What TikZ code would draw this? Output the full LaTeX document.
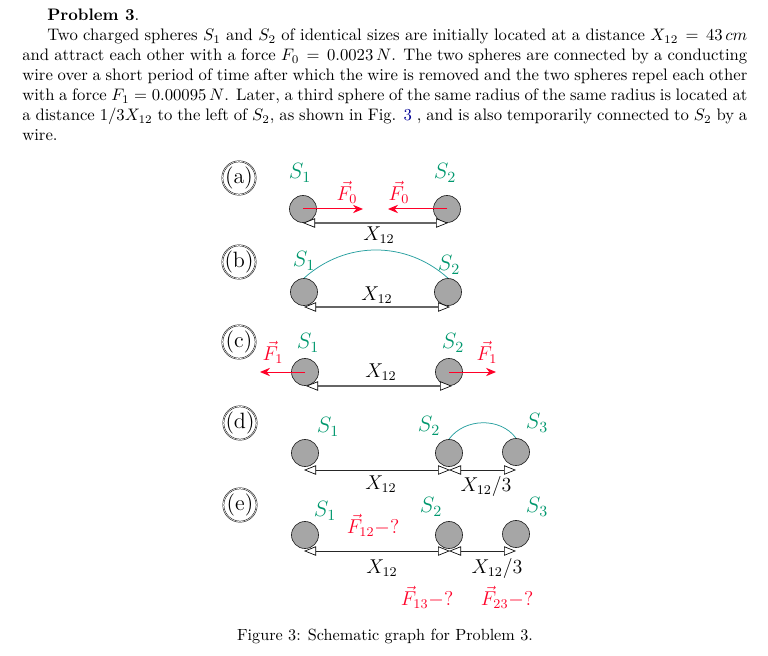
\RequirePackage{fix-cm}
\documentclass[tikz,border=0pt]{standalone}
\usepackage{xcolor}
\usetikzlibrary{arrows.meta}
\definecolor{sgreen}{RGB}{0,152,110}
\definecolor{wire}{RGB}{40,160,160}
\definecolor{fred}{RGB}{255,0,40}
\definecolor{linkblue}{RGB}{0,0,150}
\newcommand{\tagsize}{\fontsize{13.3}{16}\selectfont}
\tikzset{
  ball/.style={circle,draw=black!85,line width=.4pt,fill=black!35,minimum size=16.2pt,inner sep=0pt},
  tag/.style={circle,double,draw,line width=.3pt,double distance=.35pt,minimum size=20pt,inner sep=-2.5pt,font=\tagsize},
  sname/.style={text=sgreen,font=\tagsize,inner sep=0pt},
  dist/.style={font=\large,inner sep=0pt},
  flabel/.style={text=fred,font=\large,inner sep=0pt},
  force/.style={draw=fred,fill=fred,line width=.6pt,-{Stealth[length=6pt,width=5pt]}},
  span/.style={draw=black!60,line width=.7pt,{Triangle[length=7.2pt,width=5.6pt,fill=white,line width=.4pt,color=black]}-{Triangle[length=7.2pt,width=5.6pt,fill=white,line width=.4pt,color=black]}},
  thinspan/.style={span,draw=black!85,line width=.45pt},
  wireline/.style={draw=wire,line width=.45pt}
}
\begin{document}
\begin{tikzpicture}[x=.6pt,y=-.6pt]
\path[use as bounding box,fill=white] (0,0) rectangle (768,656);
\node[anchor=north west,text width=435pt,align=justify,inner sep=0pt] (body) at (22,9) {%
\hspace*{15pt}\textbf{Problem 3}.\hfill\null\linebreak
\hspace*{15pt}Two charged spheres $S_1$ and $S_2$ of identical sizes are initially located at a distance $X_{12}\,=\,43\,cm$\linebreak
and attract each other with a force $F_0\,=\,0.0023\,N$. The two spheres are connected by a conducting\linebreak
wire over a short period of time after which the wire is removed and the two spheres repel each other\linebreak
with a force $F_1=0.00095\,N$. Later, a third sphere of the same radius of the same radius is located at\linebreak
a distance $1/3X_{12}$ to the left of $S_2$, as shown in Fig. \textcolor{linkblue}{3} , and is also temporarily connected to $S_2$ by a\linebreak
wire.};
% (a)
\node[tag] (ta) at (239,178) {(a)};
\node[ball] (a1) at (303,209) {};
\node[ball] (a2) at (447,209) {};
\node[sname] (as1) at (300,173) {$S_1$};
\node[sname] (as2) at (445,173) {$S_2$};
\node[flabel] (af1) at (347,192) {$\vec F_0$};
\node[flabel] (af2) at (399,192) {$\vec F_0$};
\coordinate (ae1) at (363,209);
\coordinate (ae2) at (388,209);
\draw[force] (a1.center) -- (ae1);
\draw[force] (a2.center) -- (ae2);
\coordinate (al) at (303,223);
\coordinate (ar) at (448,223);
\draw[span] (al) -- (ar);
\node[dist] (ax) at (379,235) {$X_{12}$};
% (b)
\node[tag] (tb) at (239,262) {(b)};
\node[ball] (b1) at (304,292) {};
\node[ball] (b2) at (448,292) {};
\node[sname] (bs1) at (304,261) {$S_1$};
\node[sname] (bs2) at (449,265) {$S_2$};
\draw[wireline] (b1.north) to[out=42,in=138] (b2.north);
\coordinate (bl) at (304,307);
\coordinate (br) at (450,307);
\draw[span] (bl) -- (br);
\node[dist] (bx) at (377,295) {$X_{12}$};
% (c)
\node[tag] (tc) at (239,342) {(c)};
\node[ball] (c1) at (305,372) {};
\node[ball] (c2) at (449,372) {};
\node[sname] (cs1) at (308,343) {$S_1$};
\node[sname] (cs2) at (453,343) {$S_2$};
\node[flabel] (cf1) at (273,352) {$\vec F_1$};
\node[flabel] (cf2) at (487,352) {$\vec F_1$};
\coordinate (ce1) at (260,372);
\coordinate (ce2) at (496,372);
\draw[force] (c1.center) -- (ce1);
\draw[force] (c2.center) -- (ce2);
\coordinate (cl) at (306,386);
\coordinate (cr) at (452,386);
\draw[span] (cl) -- (cr);
\node[dist] (cx) at (381,372) {$X_{12}$};
% (d)
\node[tag] (td) at (240,423) {(d)};
\node[ball] (d1) at (305,453) {};
\node[ball] (d2) at (449,453) {};
\node[ball] (d3) at (516,452) {};
\node[sname] (ds1) at (328,427) {$S_1$};
\node[sname] (ds2) at (429,426) {$S_2$};
\node[sname] (ds3) at (537,423) {$S_3$};
\draw[wireline] (d2.north) to[out=54,in=126] (d3.north);
\coordinate (dl) at (304,470);
\coordinate (dr) at (450,470);
\coordinate (dm) at (449,470);
\coordinate (de) at (516,470);
\draw[thinspan] (dl) -- (dr);
\draw[thinspan] (dm) -- (de);
\node[dist] (dx) at (381,484) {$X_{12}$};
\node[dist] (dy) at (486,486) {$X_{12}/3$};
% (e)
\node[tag] (te) at (240,505) {(e)};
\node[ball] (e1) at (305,535) {};
\node[ball] (e2) at (449,535) {};
\node[ball] (e3) at (516,534) {};
\node[sname] (es1) at (325,511) {$S_1$};
\node[sname] (es2) at (431,507) {$S_2$};
\node[sname] (es3) at (537,507) {$S_3$};
\coordinate (el) at (304,551);
\coordinate (er) at (450,551);
\coordinate (em) at (449,551);
\coordinate (ef) at (516,551);
\draw[thinspan] (el) -- (er);
\draw[thinspan] (em) -- (ef);
\node[dist] (ex) at (382,568) {$X_{12}$};
\node[dist] (ey) at (497,568) {$X_{12}/3$};
\node[flabel] (f12) at (373,525) {$\vec F_{12}{-}?$};
\node[flabel] (f13) at (427,597) {$\vec F_{13}{-}?$};
\node[flabel] (f23) at (507,597) {$\vec F_{23}{-}?$};
\node[inner sep=0pt,font=\fontsize{9.7}{12}\selectfont] (cap) at (385,636) {Figure 3: Schematic graph for Problem 3.};
\end{tikzpicture}
\end{document}
